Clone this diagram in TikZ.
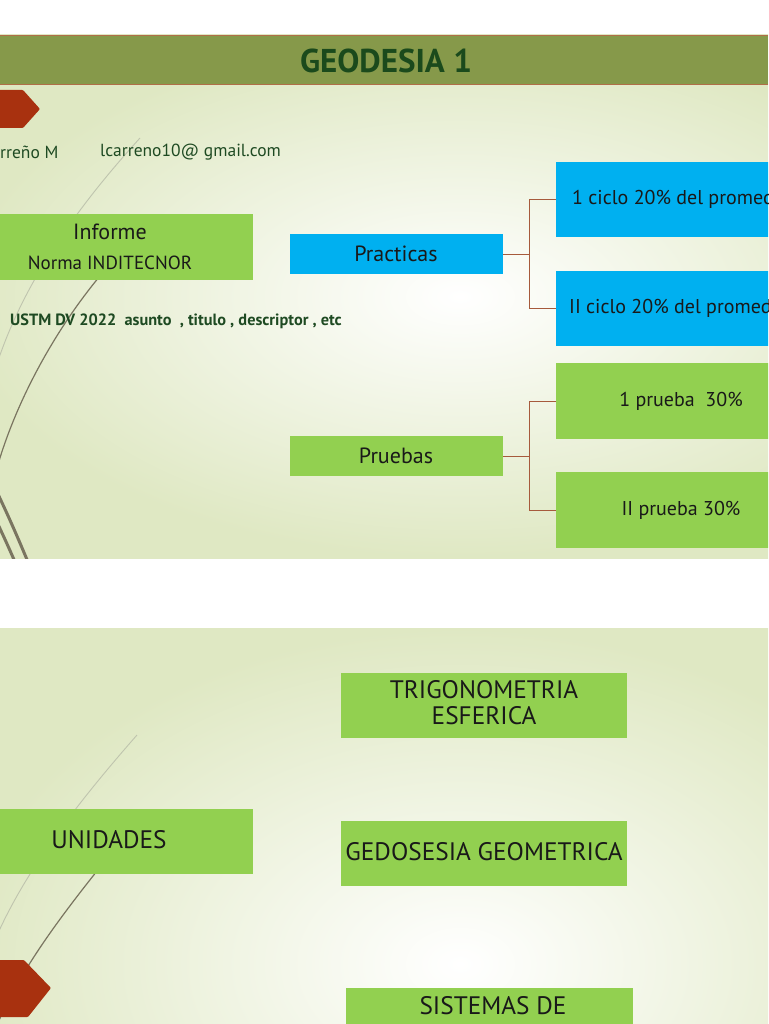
\documentclass[tikz,border=0pt]{standalone}
\usepackage{fontspec}
\setmainfont{PT Sans}
\usetikzlibrary{calc}
\definecolor{barg}{HTML}{86994A}
\definecolor{barb}{HTML}{B06E48}
\definecolor{ttl}{HTML}{1B4A1C}
\definecolor{boxg}{HTML}{92D050}
\definecolor{boxb}{HTML}{00B0F0}
\definecolor{conn}{HTML}{A65A3C}
\definecolor{redsh}{HTML}{A8310F}
\definecolor{bgout}{HTML}{DFE8C3}
\definecolor{dkg}{HTML}{1E4A22}
\definecolor{lineA}{HTML}{BFC4AE}
\definecolor{lineB}{HTML}{7A7560}
\tikzset{
  gbox/.style={fill=boxg, draw=none, inner sep=0pt, outer sep=0pt},
  bbox/.style={fill=boxb, draw=none, inner sep=0pt, outer sep=0pt},
  boxtxt/.style={inner sep=0pt, text=black!90, align=center},
  linktxt/.style={inner sep=0pt, text=dkg},
  connector/.style={draw=conn, line width=1pt},
  thinarc/.style={draw=lineA, line width=0.9pt},
  darkarc/.style={draw=lineB, line width=1.2pt},
  thickarc/.style={draw=lineB, line width=3pt},
  capsfont/.style={font=\fontsize{25.3}{26}\selectfont},
}
\begin{document}
\begin{tikzpicture}[x=1pt,y=-1pt]
\useasboundingbox (0,0) rectangle (768,1024);
\clip (0,0) rectangle (768,1024);
\fill[white] (0,0) rectangle (768,1024);
% ---------- slide 1 background ----------
\shade[inner color=white, outer color=bgout] (-40,35) rectangle (960,558);
\begin{scope}
\clip (0,35) rectangle (768,558);
\draw[thinarc] (140,138) .. controls (70,215) and (20,290) .. (-5,370);
\draw[darkarc] (112,262) .. controls (60,320) and (15,400) .. (-5,475);
\draw[thickarc] (-4,490) .. controls (8,515) and (18,538) .. (28,562);
\draw[thickarc] (-4,520) .. controls (3,535) and (9,548) .. (15,562);
\end{scope}
% title bar
\fill[barg] (0,35) rectangle (768,85);
\draw[barb, line width=1.5pt] (0,35.5) -- (768,35.5);
\draw[barb, line width=1.5pt] (0,84.5) -- (768,84.5);
\node[inner sep=0pt, text=ttl, font=\bfseries\fontsize{33}{38}\selectfont] (title) at (386,61) {GEODESIA 1};
% red pentagon
\fill[redsh, rounded corners=1pt] (-2,90) -- (23,90) -- (40,109) -- (23,128) -- (-2,128) -- cycle;
% author line
\node[linktxt, anchor=west, font=\fontsize{17.5}{20}\selectfont] (author) at (0,152) {rreño M};
\node[linktxt, anchor=west, font=\fontsize{17.5}{20}\selectfont] (email) at (100,152) {lcarreno10@ gmail.com};
% Informe box
\path[gbox] (0,214) rectangle (253,280);
\node[boxtxt, font=\fontsize{22}{26}\selectfont] (informe) at (110,232) {Informe};
\node[boxtxt, font=\fontsize{19}{22}\selectfont] (norma) at (110,263) {Norma INDITECNOR};
\node[linktxt, anchor=west, font=\bfseries\fontsize{16.3}{18}\selectfont] (ustm) at (10,321) {USTM DV 2022\ \ asunto\ \ , titulo , descriptor , etc};
% Practicas
\node[bbox, minimum width=213pt, minimum height=40pt] (prac) at (396.5,254) {};
\node[boxtxt, font=\fontsize{22}{26}\selectfont] (practxt) at (396,254) {Practicas};
\node[bbox, minimum width=250pt, minimum height=75pt, anchor=north west] (b1) at (556,162) {};
\node[boxtxt, anchor=west, font=\fontsize{20}{22}\selectfont] (b1t) at (572,199.5) {1 ciclo 20\% del promedio};
\node[bbox, minimum width=250pt, minimum height=75pt, anchor=north west] (b2) at (556,271) {};
\node[boxtxt, anchor=west, font=\fontsize{20}{22}\selectfont] (b2t) at (569,308.5) {II ciclo 20\% del promedio};
\draw[connector] (prac.east) -- ++(26,0) coordinate (pj) |- (b1.west);
\draw[connector] (pj) |- (b2.west);
% Pruebas
\node[gbox, minimum width=213pt, minimum height=40pt] (prue) at (396.5,456) {};
\node[boxtxt, font=\fontsize{22}{26}\selectfont] (pruetxt) at (396,456) {Pruebas};
\node[gbox, minimum width=250pt, minimum height=76pt, anchor=north west] (g1) at (556,363) {};
\node[boxtxt, font=\fontsize{20}{22}\selectfont] (g1t) at (681,401) {1 prueba\ \ 30\%};
\node[gbox, minimum width=250pt, minimum height=76pt, anchor=north west] (g2) at (556,472) {};
\node[boxtxt, font=\fontsize{20}{22}\selectfont] (g2t) at (681,510) {II prueba 30\%};
\draw[connector] (prue.east) -- ++(26,0) coordinate (qj) |- (g1.west);
\draw[connector] (qj) |- (g2.west);
% ---------- slide 2 ----------
\shade[inner color=white, outer color=bgout] (-40,628) rectangle (960,1300);
\begin{scope}
\clip (0,628) rectangle (768,1024);
\draw[thinarc] (137,735) .. controls (80,800) and (25,870) .. (-5,940);
\draw[darkarc] (97,871) .. controls (50,930) and (15,980) .. (-5,1030);
\end{scope}
\path[gbox] (341,673) rectangle (627,738);
\node[boxtxt, capsfont] (trig) at (484,703) {TRIGONOMETRIA\\ESFERICA};
\path[gbox] (0,809) rectangle (253,874);
\node[boxtxt, capsfont] (unid) at (109,840) {UNIDADES};
\path[gbox] (341,821) rectangle (627,886);
\node[boxtxt, capsfont] (gedo) at (484,852) {GEDOSESIA GEOMETRICA};
\path[gbox] (346,988) rectangle (633,1060);
\node[boxtxt, capsfont] (sist) at (493,1006) {SISTEMAS DE};
\fill[redsh, rounded corners=1pt] (-2,960) -- (24,960) -- (51,988) -- (28,1017) -- (-2,1017) -- cycle;
\end{tikzpicture}
\end{document}
